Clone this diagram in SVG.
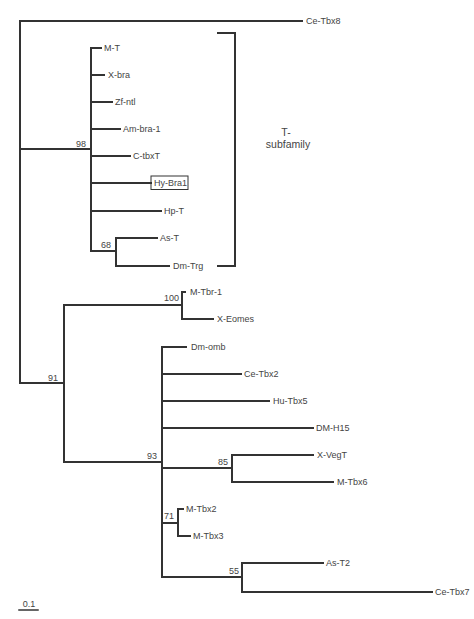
<svg xmlns="http://www.w3.org/2000/svg" width="474" height="619" viewBox="0 0 474 619">
<style>
.e{fill:none;stroke:#333;stroke-width:2;stroke-linecap:square}
text{font-family:"Liberation Sans",Arial,sans-serif;font-size:9px;fill:#444}
.big{font-size:10.5px}
</style>
<rect width="474" height="619" fill="#fff"/>
<g id="connectors">
<path class="e" d="M20,21V383H64"/>
<path class="e" d="M20,21H302"/>
<path class="e" d="M20,149H91"/>
<path class="e" d="M91,48V251"/>
<path class="e" d="M91,48H101M91,75H104M91,102H112M91,129H120M91,156H130M91,183H151M91,211H161"/>
<path class="e" d="M91,251H116M116,238V266M116,238H157M116,266H169"/>
<path class="e" d="M218,33H235V266H218"/>
<path class="e" d="M64,305V462H162"/>
<path class="e" d="M64,305H182M182,292V319M182,292H185M182,319H213"/>
<path class="e" d="M162,347V577"/>
<path class="e" d="M162,347H186M162,374H241M162,401H269M162,428H313"/>
<path class="e" d="M162,468H232M232,455V482M232,455H313M232,482H333"/>
<path class="e" d="M162,523H178M178,509V536M178,509H183M178,536H190"/>
<path class="e" d="M162,577H242M242,563V592M242,563H323M242,592H432"/>
<path class="e" d="M19,610H38" style="stroke-width:1.5"/>
</g>
<g id="n-Ce-Tbx8"><text x="306" y="24">Ce-Tbx8</text></g>
<g id="n-M-T"><text x="104" y="51">M-T</text></g>
<g id="n-X-bra"><text x="108" y="78">X-bra</text></g>
<g id="n-Zf-ntl"><text x="115" y="105">Zf-ntl</text></g>
<g id="n-Am-bra-1"><text x="123" y="132">Am-bra-1</text></g>
<g id="n-C-tbxT"><text x="133" y="159">C-tbxT</text></g>
<g id="n-Hy-Bra1"><rect x="151" y="176" width="37" height="13.5" fill="none" stroke="#333" stroke-width="1"/><text x="154" y="186">Hy-Bra1</text></g>
<g id="n-Hp-T"><text x="164" y="214">Hp-T</text></g>
<g id="n-As-T"><text x="160" y="241">As-T</text></g>
<g id="n-Dm-Trg"><text x="173" y="269">Dm-Trg</text></g>
<g id="bs-98"><text x="86" y="147" text-anchor="end">98</text></g>
<g id="bs-68"><text x="111" y="248" text-anchor="end">68</text></g>
<g id="t-subfamily"><text class="big" x="286" y="136" text-anchor="middle">T-</text><text class="big" x="288" y="147.5" text-anchor="middle">subfamily</text></g>
<g id="bs-91"><text x="58" y="381" text-anchor="end">91</text></g>
<g id="bs-100"><text x="179" y="301" text-anchor="end">100</text></g>
<g id="n-M-Tbr-1"><text x="190" y="295">M-Tbr-1</text></g>
<g id="n-X-Eomes"><text x="217" y="322">X-Eomes</text></g>
<g id="bs-93"><text x="157" y="459" text-anchor="end">93</text></g>
<g id="n-Dm-omb"><text x="191" y="350">Dm-omb</text></g>
<g id="n-Ce-Tbx2"><text x="244" y="377">Ce-Tbx2</text></g>
<g id="n-Hu-Tbx5"><text x="273" y="404">Hu-Tbx5</text></g>
<g id="n-DM-H15"><text x="316" y="431">DM-H15</text></g>
<g id="bs-85"><text x="228" y="465" text-anchor="end">85</text></g>
<g id="n-X-VegT"><text x="317" y="458">X-VegT</text></g>
<g id="n-M-Tbx6"><text x="337" y="485">M-Tbx6</text></g>
<g id="bs-71"><text x="174" y="519" text-anchor="end">71</text></g>
<g id="n-M-Tbx2"><text x="186" y="512">M-Tbx2</text></g>
<g id="n-M-Tbx3"><text x="193" y="539">M-Tbx3</text></g>
<g id="bs-55"><text x="239" y="574" text-anchor="end">55</text></g>
<g id="n-As-T2"><text x="326" y="566">As-T2</text></g>
<g id="n-Ce-Tbx7"><text x="435" y="595">Ce-Tbx7</text></g>
<g id="scale"><text x="29" y="607" text-anchor="middle">0.1</text></g>
</svg>
